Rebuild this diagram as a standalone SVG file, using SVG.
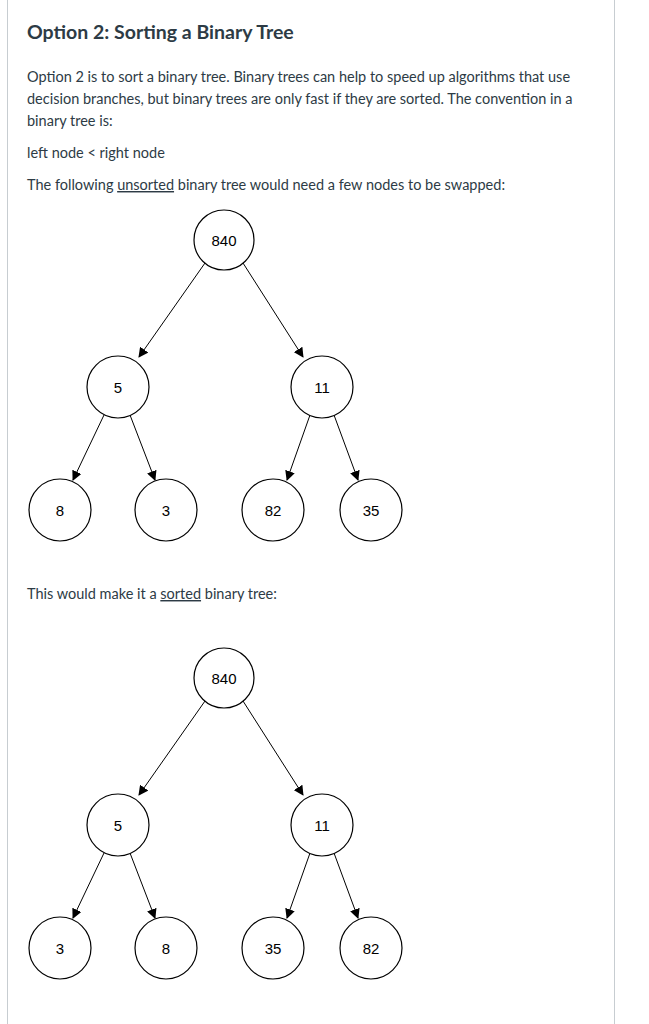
<svg xmlns="http://www.w3.org/2000/svg" width="649" height="1024" viewBox="0 0 649 1024">
<style>
.t{font-family:Lato,"Open Sans",sans-serif;font-size:14.5px;fill:#2d3b45}
.h{font-family:Lato,"Open Sans",sans-serif;font-size:19.5px;font-weight:bold;fill:#2d3b45}
.n circle{fill:#fff;stroke:#000;stroke-width:1.2}
.n text{font-family:"Liberation Sans",Arial,sans-serif;font-size:15px;text-anchor:middle;fill:#000}
.e line{stroke:#000;stroke-width:1;marker-end:url(#a)}
</style>
<defs><marker id="a" markerWidth="10" markerHeight="10" refX="9" refY="5" orient="auto" markerUnits="userSpaceOnUse"><path d="M0,0 L10,5 L0,10 z" fill="#000"/></marker></defs>
<rect width="649" height="1024" fill="#fff"/>
<line x1="7.5" y1="0" x2="7.5" y2="1024" stroke="#c7cdd1"/>
<line x1="614.5" y1="0" x2="614.5" y2="1024" stroke="#c7cdd1"/>
<text class="h" x="27" y="39">Option 2: Sorting a Binary Tree</text>
<text class="t" x="27" y="82">Option 2 is to sort a binary tree. Binary trees can help to speed up algorithms that use</text>
<text class="t" x="27" y="104">decision branches, but binary trees are only fast if they are sorted. The convention in a</text>
<text class="t" x="27" y="126">binary tree is:</text>
<text class="t" x="27" y="158">left node &lt; right node</text>
<text class="t" x="27" y="190">The following <tspan text-decoration="underline">unsorted</tspan> binary tree would need a few nodes to be swapped:</text>
<text class="t" x="27" y="599">This would make it a <tspan text-decoration="underline">sorted</tspan> binary tree:</text>
<g id="connectors" class="e">
<line x1="205" y1="263" x2="139" y2="357"/><line x1="243" y1="263" x2="303" y2="357"/>
<line x1="104" y1="415" x2="73" y2="480"/><line x1="130" y1="415" x2="155" y2="480"/>
<line x1="310" y1="415" x2="287" y2="480"/><line x1="334" y1="415" x2="358" y2="480"/>
<line x1="205" y1="701" x2="139" y2="795"/><line x1="243" y1="701" x2="303" y2="795"/>
<line x1="104" y1="853" x2="73" y2="918"/><line x1="130" y1="853" x2="155" y2="918"/>
<line x1="310" y1="853" x2="287" y2="918"/><line x1="334" y1="853" x2="358" y2="918"/>
</g>
<g id="a840" class="n"><circle cx="224" cy="240" r="30"/><text x="224" y="246">840</text></g>
<g id="a5" class="n"><circle cx="118" cy="387" r="31"/><text x="118" y="393">5</text></g>
<g id="a11" class="n"><circle cx="322" cy="387" r="31"/><text x="322" y="393">11</text></g>
<g id="a8" class="n"><circle cx="60" cy="510" r="31"/><text x="60" y="516">8</text></g>
<g id="a3" class="n"><circle cx="166" cy="510" r="31"/><text x="166" y="516">3</text></g>
<g id="a82" class="n"><circle cx="273" cy="510" r="31"/><text x="273" y="516">82</text></g>
<g id="a35" class="n"><circle cx="371" cy="510" r="31"/><text x="371" y="516">35</text></g>
<g id="b840" class="n"><circle cx="224" cy="678" r="30"/><text x="224" y="684">840</text></g>
<g id="b5" class="n"><circle cx="118" cy="825" r="31"/><text x="118" y="831">5</text></g>
<g id="b11" class="n"><circle cx="322" cy="825" r="31"/><text x="322" y="831">11</text></g>
<g id="b3" class="n"><circle cx="60" cy="948" r="31"/><text x="60" y="954">3</text></g>
<g id="b8" class="n"><circle cx="166" cy="948" r="31"/><text x="166" y="954">8</text></g>
<g id="b35" class="n"><circle cx="273" cy="948" r="31"/><text x="273" y="954">35</text></g>
<g id="b82" class="n"><circle cx="371" cy="948" r="31"/><text x="371" y="954">82</text></g>
</svg>
